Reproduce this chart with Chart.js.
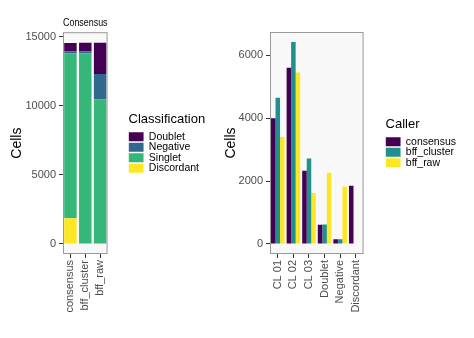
<!DOCTYPE html>
<html>
<head>
<meta charset="utf-8">
<script src="https://cdn.jsdelivr.net/npm/chart.js@4.4.1/dist/chart.umd.min.js"></script>
<style>
  html, body { margin: 0; padding: 0; background: #ffffff; }
  #wrap { position: relative; width: 474px; height: 338px; }
  #leftBox { position: absolute; left: 0; top: 0; width: 220px; height: 338px; }
  #rightBox { position: absolute; left: 220px; top: 0; width: 254px; height: 338px; }
</style>
</head>
<body>
<div id="wrap">
  <div id="leftBox"><canvas id="classChart"></canvas></div>
  <div id="rightBox"><canvas id="callerChart"></canvas></div>
</div>
<script>
// Data
const callers = ['consensus', 'bff_cluster', 'bff_raw'];
const groups = ['CL 01', 'CL 02', 'CL 03', 'Doublet', 'Negative', 'Discordant'];

const consensusCounts = [4000, 5600, 2330, 610, 150, 1850];
const bffClusterCounts = [4650, 6420, 2720, 620, 150, 0];
const bffRawCounts = [3400, 5450, 1620, 2260, 1830, 0];

// stacked totals per caller (consensus, bff_cluster, bff_raw)
const doubletTotals = [610, 620, 2260];
const negativeTotals = [150, 150, 1830];
const singletTotals = [11930, 13790, 10470];
const discordantTotals = [1850, 0, 0];

const classTicks = [0, 5000, 10000, 15000];
const callerTicks = [0, 2000, 4000, 6000];

const FONT = "'Liberation Sans', Arial, sans-serif";
const TICK_COLOR = '#4d4d4d';

// panel background + grey frame like ggplot
const panelBox = {
    id: 'panelBox',
    beforeDraw(chart) {
        const a = chart.chartArea;
        const ctx = chart.ctx;
        ctx.save();
        ctx.fillStyle = '#f8f8f8';
        ctx.fillRect(a.left, a.top, a.right - a.left, a.bottom - a.top);
        ctx.restore();
    },
    afterDatasetsDraw(chart) {
        const a = chart.chartArea;
        const ctx = chart.ctx;
        ctx.save();
        ctx.strokeStyle = '#9a9a9a';
        ctx.lineWidth = 1;
        ctx.strokeRect(a.left + 0.5, a.top + 0.5, a.right - a.left - 1, a.bottom - a.top - 1);
        ctx.restore();
    }
};

function yAxis(min, max, ticks, width, titlePad) {
    return {
        min: min,
        max: max,
        stacked: true,
        border: { display: false },
        grid: { drawOnChartArea: false, drawTicks: true, tickLength: 4, color: '#333333' },
        ticks: {
            color: TICK_COLOR,
            font: { family: FONT, size: 11 },
            padding: 3,
            callback: v => String(v)
        },
        afterBuildTicks: s => { s.ticks = ticks.map(v => ({ value: v })); },
        afterFit: s => { s.width = width; },
        title: {
            display: true,
            text: 'Cells',
            color: '#000000',
            font: { family: FONT, size: 14 },
            padding: { top: titlePad, bottom: 0 }
        }
    };
}

function xAxis(stacked) {
    return {
        stacked: stacked,
        offset: true,
        border: { display: false },
        grid: { drawOnChartArea: false, drawTicks: true, tickLength: 4, color: '#333333', offset: false },
        ticks: {
            color: TICK_COLOR,
            font: { family: FONT, size: 11 },
            autoSkip: false,
            maxRotation: 90,
            minRotation: 90,
            padding: 2
        },
        afterFit: s => { s.height = 84; }
    };
}

function gapAxis(width) {
    return {
        type: 'linear',
        position: 'right',
        display: true,
        grid: { display: false },
        ticks: { display: false },
        border: { display: false },
        afterFit: s => { s.width = width; }
    };
}

function legendOpts(title) {
    return {
        position: 'right',
        align: 'center',
        fullSize: false,
        maxWidth: 200,
        reverse: title === 'Classification',
        title: {
            display: true,
            text: title,
            color: '#000000',
            position: 'start',
            font: { family: FONT, size: 13 },
            padding: { top: 0, bottom: 3 }
        },
        labels: {
            boxWidth: 15,
            boxHeight: 9,
            padding: 0,
            color: '#000000',
            font: { family: FONT, size: 10.5 }
        }
    };
}

function renderClassChart() {
    const ctx = document.getElementById('classChart').getContext('2d');
    new Chart(ctx, {
        type: 'bar',
        data: {
            labels: callers,
            datasets: [
                { label: 'Discordant', data: discordantTotals, backgroundColor: '#fde725' },
                { label: 'Singlet', data: singletTotals, backgroundColor: '#35b779' },
                { label: 'Negative', data: negativeTotals, backgroundColor: '#31688e' },
                { label: 'Doublet', data: doubletTotals, backgroundColor: '#440154' }
            ]
        },
        options: {
            responsive: true,
            maintainAspectRatio: false,
            animation: false,
            datasets: { bar: { barPercentage: 0.84, categoryPercentage: 1, borderWidth: 0 } },
            layout: { padding: { left: 0, right: 11, top: 0, bottom: 0 } },
            scales: {
                x: xAxis(true),
                y: yAxis(-730, 15330, classTicks, 63, 9),
                gap: gapAxis(21)
            },
            plugins: {
                legend: legendOpts('Classification'),
                title: {
                    display: true,
                    text: 'Consensus',
                    fullSize: false,
                    color: '#000000',
                    font: { family: FONT, size: 11, weight: 'normal' },
                    padding: { top: 16, bottom: 3 }
                },
                tooltip: { enabled: false }
            }
        },
        plugins: [panelBox]
    });
}

function renderCallerChart() {
    const ctx = document.getElementById('callerChart').getContext('2d');
    new Chart(ctx, {
        type: 'bar',
        data: {
            labels: groups,
            datasets: [
                { label: 'consensus', data: consensusCounts, backgroundColor: '#440154' },
                { label: 'bff_cluster', data: bffClusterCounts, backgroundColor: '#21908c' },
                { label: 'bff_raw', data: bffRawCounts, backgroundColor: '#fde725' }
            ]
        },
        options: {
            responsive: true,
            maintainAspectRatio: false,
            animation: false,
            datasets: { bar: { barPercentage: 1, categoryPercentage: 0.87, borderWidth: 0 } },
            layout: { padding: { left: 0, right: 8, top: 32, bottom: 0 } },
            scales: {
                x: xAxis(false),
                y: Object.assign(yAxis(-321, 6741, callerTicks, 50, 3), { stacked: false }),
                gap: gapAxis(22)
            },
            plugins: {
                legend: legendOpts('Caller'),
                tooltip: { enabled: false }
            }
        },
        plugins: [panelBox]
    });
}

document.addEventListener('DOMContentLoaded', function() {
    renderClassChart();
    renderCallerChart();
});
</script>
</body>
</html>
